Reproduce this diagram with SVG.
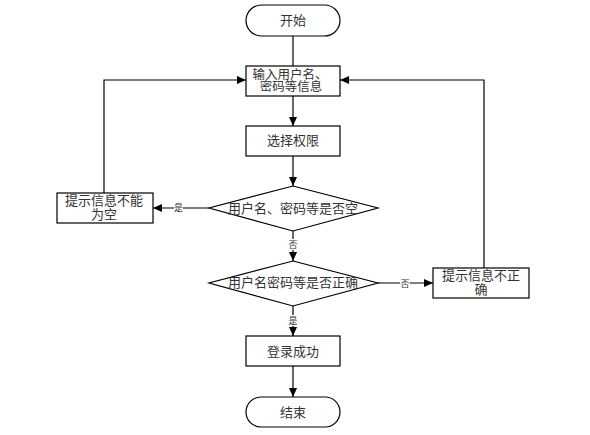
<svg xmlns="http://www.w3.org/2000/svg" width="590" height="435" viewBox="0 0 590 435">
<style>
.s{fill:#fff;stroke:#000;stroke-width:1.2}
.t{font-family:"Liberation Serif","Noto Sans CJK SC",serif;font-size:13px;fill:#333;text-anchor:middle}
.t2{font-size:12.5px}
.l{font-family:"Liberation Serif","Noto Sans CJK SC",serif;font-size:9px;fill:#333;text-anchor:middle}
.c{fill:none;stroke:#000;stroke-width:1.2}
.bg{fill:#fff}
</style>
<defs>
<marker id="a" markerWidth="10" markerHeight="8" refX="9" refY="4" orient="auto" markerUnits="userSpaceOnUse">
<path d="M0,0 L9,4 L0,8 Z" fill="#000"/>
</marker>
</defs>
<rect width="590" height="435" fill="#fff"/>
<g id="connectors">
<path class="c" d="M293,36 V66"/>
<path class="c" d="M293,96 V126" marker-end="url(#a)"/>
<path class="c" d="M293,156 V186" marker-end="url(#a)"/>
<path class="c" d="M209,208 H153" marker-end="url(#a)"/>
<path class="c" d="M104,193 V80 H246" marker-end="url(#a)"/>
<path class="c" d="M293,231 V261" marker-end="url(#a)"/>
<path class="c" d="M378,283 H433" marker-end="url(#a)"/>
<path class="c" d="M484,268 V80 H340" marker-end="url(#a)"/>
<path class="c" d="M293,306 V336" marker-end="url(#a)"/>
<path class="c" d="M293,366 V397" marker-end="url(#a)"/>
<rect class="bg" x="174" y="202" width="9" height="11"/>
<text class="l" x="178.5" y="211">是</text>
<rect class="bg" x="288" y="239" width="10" height="11"/>
<text class="l" x="293" y="248">否</text>
<rect class="bg" x="400" y="278" width="10" height="11"/>
<text class="l" x="405" y="287">否</text>
<rect class="bg" x="288" y="315" width="10" height="11"/>
<text class="l" x="293" y="324">是</text>
</g>
<g id="start">
<rect class="s" x="246" y="5" width="94" height="31" rx="15.5"/>
<text class="t" x="293" y="25">开始</text>
</g>
<g id="input">
<rect class="s" x="246" y="66" width="94" height="30"/>
<text class="t t2" x="290" y="78.5">输入用户名、</text>
<text class="t t2" x="291" y="91">密码等信息</text>
</g>
<g id="perm">
<rect class="s" x="246" y="126" width="94" height="30"/>
<text class="t" x="293" y="145">选择权限</text>
</g>
<g id="empty">
<path class="s" d="M293,186 L378,208 L293,231 L209,208 Z"/>
<text class="t" x="293" y="212.5">用户名、密码等是否空</text>
</g>
<g id="msg-empty">
<rect class="s" x="57" y="193" width="96" height="30"/>
<text class="t" x="104" y="205">提示信息不能</text>
<text class="t" x="104" y="218.5">为空</text>
</g>
<g id="correct">
<path class="s" d="M293,261 L378,283 L293,306 L209,283 Z"/>
<text class="t" x="293" y="287">用户名密码等是否正确</text>
</g>
<g id="msg-wrong">
<rect class="s" x="433" y="268" width="96" height="30"/>
<text class="t" x="481" y="280">提示信息不正</text>
<text class="t" x="481" y="293.5">确</text>
</g>
<g id="success">
<rect class="s" x="246" y="336" width="94" height="30"/>
<text class="t" x="293" y="355.5">登录成功</text>
</g>
<g id="end">
<rect class="s" x="246" y="397" width="94" height="30" rx="15"/>
<text class="t" x="293" y="416.5">结束</text>
</g>
</svg>
